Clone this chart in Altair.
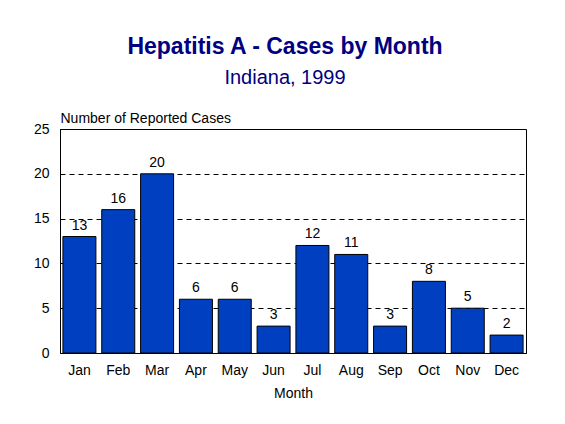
import altair as alt
import pandas as pd

months = ["Jan", "Feb", "Mar", "Apr", "May", "Jun",
          "Jul", "Aug", "Sep", "Oct", "Nov", "Dec"]
cases = [13, 16, 20, 6, 6, 3, 12, 11, 3, 8, 5, 2]
y_ticks = [0, 5, 10, 15, 20, 25]

df = pd.DataFrame({"month": months, "cases": cases})

FONT = "Liberation Sans"

base = alt.Chart(df).encode(
    x=alt.X("month:N", sort=months, title="Month",
            scale=alt.Scale(paddingInner=0.15, paddingOuter=0.075),
            axis=alt.Axis(labelAngle=0, ticks=False, labelPadding=10,
                          titlePadding=9, domainColor="black")),
    y=alt.Y("cases:Q", title="Number of Reported Cases",
            scale=alt.Scale(domain=[0, 25], nice=False),
            axis=alt.Axis(values=y_ticks, ticks=False, labelPadding=11,
                          grid=True, gridColor="black", gridDash=[5, 4],
                          gridOpacity=1, domainColor="black",
                          titleAngle=0, titleAlign="left", titleBaseline="alphabetic",
                          titleX=0, titleY=-7)),
)

bars = base.mark_bar(color="#0040C0", stroke="black", strokeWidth=1)

labels = base.mark_text(baseline="alphabetic", dy=-7, fontSize=14,
                        font=FONT, color="black").encode(text="cases:Q")

chart = (bars + labels).properties(
    width=466,
    height=224,
    autosize="none",
    padding={"left": 52, "top": 121, "right": 31, "bottom": 56},
    title=alt.TitleParams(
        "Hepatitis A - Cases by Month",
        subtitle="Indiana, 1999",
        color="#000080", subtitleColor="#000080",
        font=FONT, subtitleFont=FONT,
        fontSize=23, subtitleFontSize=20, fontWeight="bold",
        anchor="middle", dx=-8, offset=23, subtitlePadding=9,
    ),
).configure_view(
    stroke="black", strokeWidth=1
).configure_axis(
    labelFont=FONT, titleFont=FONT, labelFontSize=14, titleFontSize=14,
    labelColor="black", titleColor="black", titleFontWeight="normal",
)

chart.save("out.html", embed_options={"renderer": "svg", "actions": False})
